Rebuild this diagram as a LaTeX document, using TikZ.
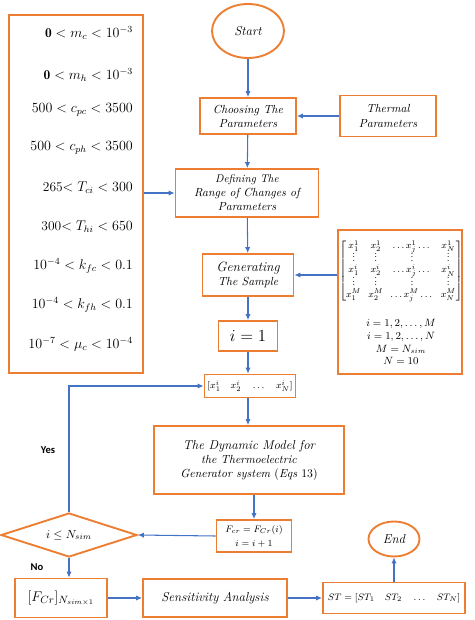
\documentclass[tikz,border=0pt]{standalone}
\usepackage{amsmath,amssymb}
\usepackage{fontspec}
\newfontfamily\labelfont{Carlito}
\usetikzlibrary{shapes.geometric,arrows.meta}
\definecolor{boxorange}{RGB}{237,125,49}
\definecolor{lineblue}{RGB}{68,114,196}
\newcommand{\coldots}{\vbox{\baselineskip2.8pt\lineskiplimit0pt\hbox{.}\hbox{.}\hbox{.}}}
\tikzset{
  box/.style={draw=boxorange, line width=1.6pt, fill=white, align=center, inner sep=2pt},
  oval/.style={ellipse, draw=boxorange, line width=1.6pt, fill=white, align=center},
  flow/.style={->, draw=lineblue, line width=0.9pt},
  rangetext/.style={anchor=east, font=\fontsize{11.5}{13}\selectfont},
  answer/.style={font=\labelfont\bfseries\fontsize{9}{10}\selectfont},
}
\begin{document}
\begin{tikzpicture}[x=0.03cm, y=-0.03cm, >={Latex[length=5pt,width=4.5pt]}]
        \useasboundingbox (0,0) rectangle (474,620);

        % left column of ranges
        \node[box, minimum width=4.02cm, minimum height=10.74cm] (ranges) at (76,194) {};
        \node[rangetext] (r1) at (137,33) {$\mathbf{0} < m_c < 10^{-3}$};
        \node[rangetext] (r2) at (137,75) {$\mathbf{0} < m_h < 10^{-3}$};
        \node[rangetext] (r3) at (137,110) {$500 < c_{pc} < 3500$};
        \node[rangetext] (r4) at (137,148) {$500 < c_{ph} < 3500$};
        \node[rangetext] (r5) at (137,188) {265$< T_{ci} < 300$};
        \node[rangetext] (r6) at (137,227) {300$< T_{hi} < 650$};
        \node[rangetext] (r7) at (137,266) {$10^{-4} < k_{fc} < 0.1$};
        \node[rangetext] (r8) at (137,305) {$10^{-4} < k_{fh} < 0.1$};
        \node[rangetext] (r9) at (137,344) {$10^{-7} < \mu_c < 10^{-4}$};

        % main column
        \node[oval, minimum width=2.16cm, minimum height=1.62cm] (start) at (248,31)
            {\fontsize{11}{13}\selectfont\itshape Start};
        \node[box, minimum width=2.88cm, minimum height=1.08cm] (choose) at (248,116)
            {\fontsize{10}{12}\selectfont\itshape Choosing The\\ \itshape Parameters};
        \node[box, minimum width=2.88cm, minimum height=1.23cm] (thermal) at (388,116)
            {\fontsize{10}{12}\selectfont\itshape Thermal\\ \itshape Parameters};
        \node[box, minimum width=4.29cm, minimum height=1.44cm] (define) at (247,193)
            {\fontsize{9.5}{11}\selectfont\itshape Defining The\\ \itshape Range of Changes of\\ \itshape Parameters};
        \node[box, minimum width=2.73cm, minimum height=1.26cm] (generate) at (248,275)
            {\fontsize{11.5}{14}\selectfont\itshape Generating\\ \itshape The Sample};
        \node[box, minimum width=3.72cm, minimum height=4.32cm] (sample) at (400,302) {};
        \node (samplemat) at (401,271) {\fontsize{8.5}{10}\selectfont
            $\renewcommand{\arraystretch}{1.0}\setlength{\arraycolsep}{3pt}
            \begin{bmatrix}
            x_1^1 & x_2^1 & \dots x_j^1 \dots & x_N^1\\
            \coldots & \coldots & \coldots & \coldots\\
            x_1^i & x_2^i & \dots x_j^i \dots & x_N^i\\
            \coldots & \coldots & \coldots & \coldots\\
            x_1^M & x_2^M & \dots x_j^M \dots & x_N^M
            \end{bmatrix}$};
        \node[align=center, font=\fontsize{9}{11}\selectfont] (samplesize) at (401,342)
            {$i = 1,2,\dots,M$\\ $i = 1,2,\dots,N$\\ $M = N_{sim}$\\ $N = 10$};
        \node[box, minimum width=1.77cm, minimum height=0.9cm] (init) at (248,336)
            {\fontsize{14}{16}\selectfont $i = 1$};
        \node[box, minimum width=2.73cm, minimum height=0.69cm] (vector) at (250,386)
            {\fontsize{8.5}{10}\selectfont $[x_1^i \quad x_2^i \quad \dots \quad x_N^i]$};
        \node[box, minimum width=5.7cm, minimum height=2.04cm] (model) at (249,460)
            {\fontsize{11}{13.5}\selectfont\itshape The Dynamic Model for\\ \itshape the Thermoelectric\\ \itshape Generator system \upshape(\itshape Eqs \upshape 13)};
        \node[box, minimum width=2.25cm, minimum height=0.96cm] (update) at (254,536)
            {\fontsize{8.5}{9.5}\selectfont $F_{cr} = F_{Cr}(i)$\\ \fontsize{8.5}{9.5}\selectfont $i = i + 1$};
        \node[diamond, aspect=3, draw=boxorange, line width=1.6pt, fill=white, inner sep=0pt,
              minimum width=4.08cm, minimum height=1.32cm] (check) at (69,535)
            {\fontsize{10}{12}\selectfont $i \leq N_{sim}$};

        % bottom row
        \node[box, minimum width=2.76cm, minimum height=1.17cm] (output) at (61,598)
            {\fontsize{13}{15}\selectfont $[F_{Cr}]_{N_{sim\times 1}}$};
        \node[box, minimum width=4.32cm, minimum height=1.14cm] (sens) at (215,598)
            {\fontsize{11}{13}\selectfont\itshape Sensitivity Analysis};
        \node[box, minimum width=4.26cm, minimum height=0.93cm] (st) at (394,598)
            {\fontsize{8.5}{10}\selectfont $ST = [ST_1 \quad ST_2 \quad \dots \quad ST_N]$};
        \node[oval, minimum width=1.53cm, minimum height=1.05cm] (finish) at (394,539)
            {\fontsize{11}{13}\selectfont\itshape End};

        \node[answer] (yes) at (48,450) {Yes};
        \node[answer] (no) at (37,567) {No};

        % connectors
        \draw[flow] (start) -- (choose);
        \draw[flow] (thermal) -- (choose);
        \draw[flow] (choose) -- (define);
        \draw[flow] (ranges.east |- define.west) -- (define.west);
        \draw[flow] (define) -- (generate);
        \draw[flow] (sample.west |- generate.east) -- (generate.east);
        \draw[flow] (generate) -- (init);
        \draw[flow] (init.south) -- (init.south |- vector.north);
        \draw[flow] (vector.south -| init.south) -- (init.south |- model.north);
        \draw[flow] (model.south -| update.north) -- (update.north);
        \draw[flow] (update.west) -- (check.east);
        \draw[flow] (check.north) |- (vector.west);
        \draw[flow] (check.south) -- (check.south |- output.north);
        \draw[flow] (output) -- (sens);
        \draw[flow] (sens) -- (st);
        \draw[flow] (st) -- (finish);
\end{tikzpicture}
\end{document}
